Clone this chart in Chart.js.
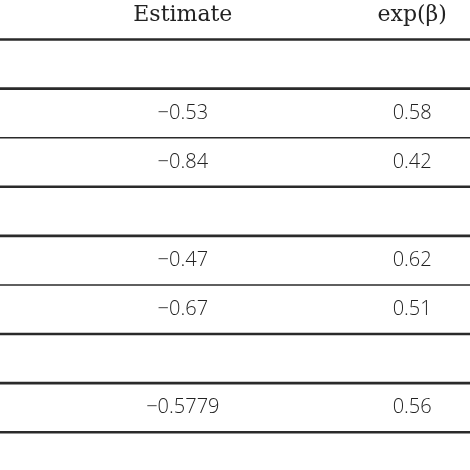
<!DOCTYPE html>
<html>
<head>
<meta charset="utf-8">
<script src="https://cdn.jsdelivr.net/npm/chart.js@4"></script>
<style>
  html, body { margin: 0; padding: 0; background: #fff; }
  #wrap { width: 470px; height: 470px; }
</style>
</head>
<body>
<div id="wrap"><canvas id="chartCanvas"></canvas></div>
<script>
// 表頭與資料
const headers = ['Estimate', 'exp(\u03b2)'];
const estimates = ['', '\u22120.53', '\u22120.84', '', '\u22120.47', '\u22120.67', '', '\u22120.5779'];
const expBeta = ['', '0.58', '0.42', '', '0.62', '0.51', '', '0.56'];
// 每列下方的分隔線：'thick' 或 'thin'（含表頭列）
const ruleAfter = ['thick', 'thick', 'thin', 'thick', 'thick', 'thin', 'thick', 'thick', 'thick'];

const colX = [0.389, 0.877];

// 分隔線資料集
const ruleSets = ruleAfter.map((kind, i) => ({
    type: 'line',
    data: [{ x: 0, y: i + 0.5 }, { x: 1, y: i + 0.5 }],
    borderColor: '#2a2a2a',
    borderWidth: kind === 'thick' ? 2.6 : 1.4,
    pointRadius: 0,
    fill: false
}));

// 文字繪製插件
const tableText = {
    id: 'tableText',
    afterDatasetsDraw(chart) {
        const { ctx, scales: { x, y } } = chart;
        ctx.save();
        ctx.fillStyle = '#222';
        ctx.textAlign = 'center';
        ctx.textBaseline = 'middle';
        ctx.font = '22px "DejaVu Serif", "Liberation Serif", serif';
        headers.forEach((h, c) => ctx.fillText(h, x.getPixelForValue(colX[c]), y.getPixelForValue(0)));
        ctx.font = '300 20px "Open Sans", "Noto Sans", sans-serif';
        estimates.forEach((v, i) => {
            const py = y.getPixelForValue(i + 1);
            ctx.fillText(v, x.getPixelForValue(colX[0]), py);
            ctx.fillText(expBeta[i], x.getPixelForValue(colX[1]), py);
        });
        ctx.restore();
    }
};

new Chart(document.getElementById('chartCanvas'), {
    type: 'scatter',
    data: { datasets: ruleSets },
    options: {
        responsive: true,
        maintainAspectRatio: false,
        animation: false,
        layout: { padding: 0 },
        plugins: { legend: { display: false }, tooltip: { enabled: false } },
        scales: {
            x: { type: 'linear', min: 0, max: 1, display: false },
            y: { type: 'linear', min: -0.305, max: 9.27, reverse: true, display: false }
        }
    },
    plugins: [tableText]
});
</script>
</body>
</html>
